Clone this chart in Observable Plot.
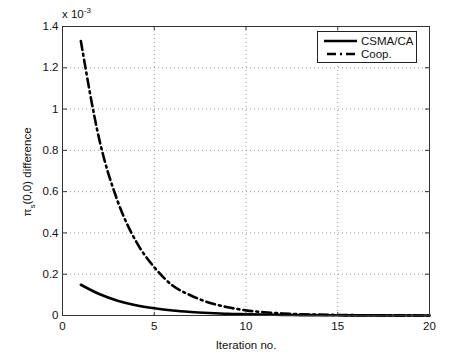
<!DOCTYPE html>
<html>
<head>
<meta charset="utf-8">
<script src="https://cdn.jsdelivr.net/npm/d3@7"></script>
<script src="https://cdn.jsdelivr.net/npm/@observablehq/plot@0.6"></script>
<style>
  body { margin: 0; background: #fff; }
  #wrap { position: relative; width: 474px; height: 355px; font-family: "Liberation Sans", Arial, sans-serif; }
  #exp { position: absolute; left: 62px; top: 6px; font-size: 11.5px; color: #111; }
  #exp sup { font-size: 8px; }
  #legend { position: absolute; left: 317px; top: 31px; width: 100px; height: 32px; border: 1px solid #222; background: #fff; font-size: 11.5px; color: #111; box-sizing: border-box; }
  #legend .row { position: absolute; left: 6px; height: 12px; display: flex; align-items: center; }
  #legend svg { margin-right: 4px; }
</style>
</head>
<body>
<div id="wrap">
  <div id="chart"></div>
  <div id="exp">x 10<sup>-3</sup></div>
  <div id="legend"></div>
</div>
<script>
// values in units of 1e-3
const iterations = [1,2,3,4,5,6,7,8,9,10,11,12,13,14,15,16,17,18,19,20];
const csmaValues = [0.149,0.104,0.072,0.050,0.035,0.024,0.017,0.012,0.008,0.006,0.004,0.003,0.002,0.0015,0.001,0.0007,0.0005,0.0003,0.0002,0.0001];
const coopValues = [1.33,0.855,0.555,0.360,0.234,0.145,0.097,0.062,0.040,0.025,0.016,0.010,0.006,0.004,0.0025,0.0016,0.001,0.0006,0.0004,0.0002];
const seriesNames = ["CSMA/CA", "Coop."];
const xTicks = [0,5,10,15,20];
const yTicks = [0,0.2,0.4,0.6,0.8,1,1.2,1.4];
const xLabel = "Iteration no.";
const yLabelMain = "π";
const yLabelSub = "s";
const yLabelRest = "(0,0) difference";

const dash = "9,4,2,4";
const csma = iterations.map((x, i) => ({x, y: csmaValues[i]}));
const coop = iterations.map((x, i) => ({x, y: coopValues[i]}));
const gridY = yTicks.slice(1, -1);
const gridX = xTicks.slice(1, -1);
const fmt = d => String(+d.toFixed(1));

const plot = Plot.plot({
  width: 474,
  height: 355,
  marginLeft: 62,
  marginRight: 45,
  marginTop: 26,
  marginBottom: 40,
  style: { fontFamily: "Liberation Sans, Arial, sans-serif", fontSize: "11.5px", color: "#111", background: "#fff" },
  x: { domain: [0, 20] },
  y: { domain: [0, 1.4] },
  marks: [
    Plot.gridY(gridY, { stroke: "#999", strokeOpacity: 1, strokeDasharray: "1,3" }),
    Plot.gridX(gridX, { stroke: "#999", strokeOpacity: 1, strokeDasharray: "1,3" }),
    Plot.line(csma, { x: "x", y: "y", stroke: "#000", strokeWidth: 2.6, curve: "monotone-x" }),
    Plot.line(coop, { x: "x", y: "y", stroke: "#000", strokeWidth: 2.6, strokeDasharray: dash, curve: "monotone-x" }),
    Plot.frame({ stroke: "#333" }),
    Plot.axisX(xTicks, { anchor: "bottom", tickSize: 0, tickPadding: 6, tickFormat: fmt, label: null, fontSize: 11.5 }),
    Plot.axisX(xTicks, { anchor: "top", frameAnchor: "bottom", tickSize: 4, text: null, label: null, stroke: "#333" }),
    Plot.axisX(xTicks, { anchor: "bottom", frameAnchor: "top", tickSize: 4, text: null, label: null, stroke: "#333" }),
    Plot.axisY(yTicks, { anchor: "left", tickSize: 0, tickPadding: 4, tickFormat: fmt, label: null, fontSize: 11.5 }),
    Plot.axisY(yTicks, { anchor: "right", frameAnchor: "left", tickSize: 4, text: null, label: null, stroke: "#333" }),
    Plot.axisY(yTicks, { anchor: "left", frameAnchor: "right", tickSize: 4, text: null, label: null, stroke: "#333" }),
    Plot.text([xLabel], { frameAnchor: "bottom", dy: 33, fontSize: 11.5, fill: "#111" })
  ]
});
document.getElementById("chart").appendChild(plot);

// y label as rotated text with subscript
const svg = d3.select(plot);
const yl = svg.append("text")
  .attr("transform", "translate(31,172) rotate(-90)")
  .attr("text-anchor", "middle")
  .attr("font-size", 11.5)
  .attr("fill", "#111");
yl.append("tspan").text(yLabelMain);
yl.append("tspan").attr("font-size", 8).attr("dy", 4).text(yLabelSub);
yl.append("tspan").attr("dy", -4).text(yLabelRest);

// legend
const legend = document.getElementById("legend");
seriesNames.forEach((name, i) => {
  const row = document.createElement("div");
  row.className = "row";
  row.style.top = (3 + i * 12.5) + "px";
  row.innerHTML = `<svg width="33" height="6"><line x1="0" y1="3" x2="33" y2="3" stroke="#000" stroke-width="2.4" ${i === 1 ? `stroke-dasharray="${dash}" stroke-dashoffset="-3"` : ""}/></svg><span>${name}</span>`;
  legend.appendChild(row);
});
</script>
</body>
</html>
